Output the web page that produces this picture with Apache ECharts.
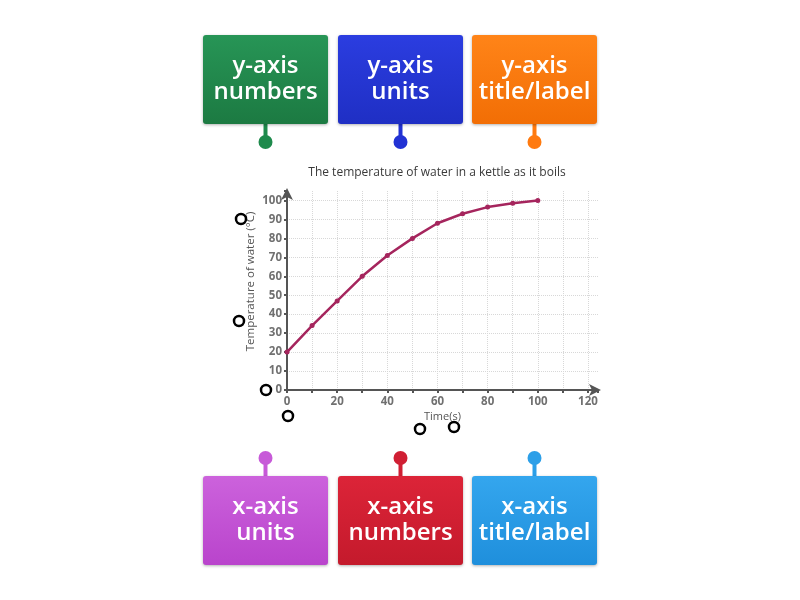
<!DOCTYPE html>
<html><head><meta charset="utf-8">
<script src="https://cdn.jsdelivr.net/npm/echarts@6/dist/echarts.min.js"></script>
<style>html,body{margin:0;padding:0;background:#fff}#c{width:800px;height:600px}</style>
</head><body><div id="c"></div>
<script>
const timeValues = [0, 10, 20, 30, 40, 50, 60, 70, 80, 90, 100];
const temperatures = [20, 34, 47, 60, 71, 80, 88, 93, 96.5, 98.5, 100];
const chartTitle = 'The temperature of water in a kettle as it boils';
const yAxisName = 'Temperature of water (°C)';
const xAxisName = 'Time(s)';
const topLabels = [['y-axis', 'numbers'], ['y-axis', 'units'], ['y-axis', 'title/label']];
const bottomLabels = [['x-axis', 'units'], ['x-axis', 'numbers'], ['x-axis', 'title/label']];
const topColors = [['#279556', '#1c7a42'], ['#2b3de0', '#1f2fc4'], ['#ff8418', '#f26e05']];
const bottomColors = [['#cc62dc', '#b944cc'], ['#dc2438', '#c41a2c'], ['#34a6ee', '#1f8fdc']];
const dotColors = {top: ['#1e8a4c', '#2232d4', '#ff7a0f'], bottom: ['#c75ad8', '#d01f33', '#2c9fe8']};
const hotspots = [[241, 219], [239, 321], [266, 390], [288, 416], [420, 429], [454, 427]];

const chart = echarts.init(document.getElementById('c'));
const boxX = [203, 338, 472];
const boxW = 125, boxH = 89;
const graphics = [];
function addBox(i, y, lines, cols, dotY, stemY1, stemY2, dotCol) {
  const cx = boxX[i] + boxW / 2;
  graphics.push({type: 'line', shape: {x1: cx, y1: stemY1, x2: cx, y2: stemY2}, style: {stroke: dotCol, lineWidth: 4}, z: 1});
  graphics.push({type: 'circle', shape: {cx: cx, cy: dotY, r: 7}, style: {fill: dotCol}, z: 2});
  graphics.push({type: 'rect', shape: {x: boxX[i], y: y, width: boxW, height: boxH, r: 3},
    style: {fill: new echarts.graphic.LinearGradient(0, 0, 0, 1, [{offset: 0, color: cols[0]}, {offset: 1, color: cols[1]}]),
      shadowBlur: 3, shadowOffsetY: 1, shadowColor: 'rgba(0,0,0,0.3)'}, z: 3});
  graphics.push({type: 'text', x: cx, y: y + boxH / 2, z: 4,
    style: {text: lines.join('\n'), fill: '#fff', font: '600 24px "Open Sans", "Noto Sans", sans-serif', align: 'center', verticalAlign: 'middle', lineHeight: 26}});
}
for (let i = 0; i < 3; i++) {
  addBox(i, 35, topLabels[i], topColors[i], 142, 124, 142, dotColors.top[i]);
  addBox(i, 476, bottomLabels[i], bottomColors[i], 458, 458, 476, dotColors.bottom[i]);
}
hotspots.forEach(p => graphics.push({type: 'circle', shape: {cx: p[0], cy: p[1], r: 5}, style: {fill: '#fff', stroke: '#000', lineWidth: 2.5}, z: 10}));
graphics.push({type: 'text', x: 437, y: 173, z: 5, style: {text: chartTitle, fill: '#3a3a3a', font: '12px "Open Sans", sans-serif', align: 'center', verticalAlign: 'middle'}});

chart.setOption({
  animation: false,
  grid: {left: 287, right: 800 - 598, top: 191, bottom: 210, containLabel: false},
  xAxis: {type: 'value', min: 0, max: 124, interval: 10,
    name: xAxisName, nameLocation: 'middle', nameGap: 21,
    nameTextStyle: {color: '#555', fontSize: 11, fontFamily: 'Open Sans'},
    axisLine: {lineStyle: {color: '#555', width: 2}, symbol: ['none', 'arrow'], symbolSize: [9, 12], symbolOffset: [0, 3]},
    axisTick: {show: true, inside: false, length: 3, lineStyle: {color: '#555', width: 2}},
    axisLabel: {color: '#707070', fontSize: 11.5, fontWeight: 'bold', fontFamily: 'Open Sans', margin: 6,
      formatter: v => (v % 20 === 0 && v <= 120) ? String(v) : ''},
    splitLine: {show: true, showMaxLine: false, lineStyle: {color: '#d8d8d8', type: 'dotted', width: 1}}
  },
  yAxis: {type: 'value', min: 0, max: 105, interval: 10,
    name: yAxisName, nameLocation: 'middle', nameGap: 30, nameRotate: 90,
    nameTextStyle: {color: '#555', fontSize: 11.5, fontFamily: 'Open Sans', padding: [0, 0, 0, 18]},
    axisLine: {show: true, lineStyle: {color: '#555', width: 2}, symbol: ['none', 'arrow'], symbolSize: [9, 12], symbolOffset: [0, 3]},
    axisTick: {show: true, length: 3, lineStyle: {color: '#555', width: 2}},
    axisLabel: {color: '#707070', fontSize: 11.5, fontWeight: 'bold', fontFamily: 'Open Sans', margin: 5,
      formatter: v => (v % 10 === 0 && v <= 100) ? String(v) : ''},
    splitLine: {show: true, showMaxLine: false, lineStyle: {color: '#d8d8d8', type: 'dotted', width: 1}}
  },
  series: [{type: 'line', data: timeValues.map((t, i) => [t, temperatures[i]]),
    lineStyle: {color: '#a5255d', width: 2.5}, itemStyle: {color: '#a5255d'},
    symbol: 'circle', symbolSize: 5, showSymbol: true}],
  graphic: graphics
});
</script></body></html>
